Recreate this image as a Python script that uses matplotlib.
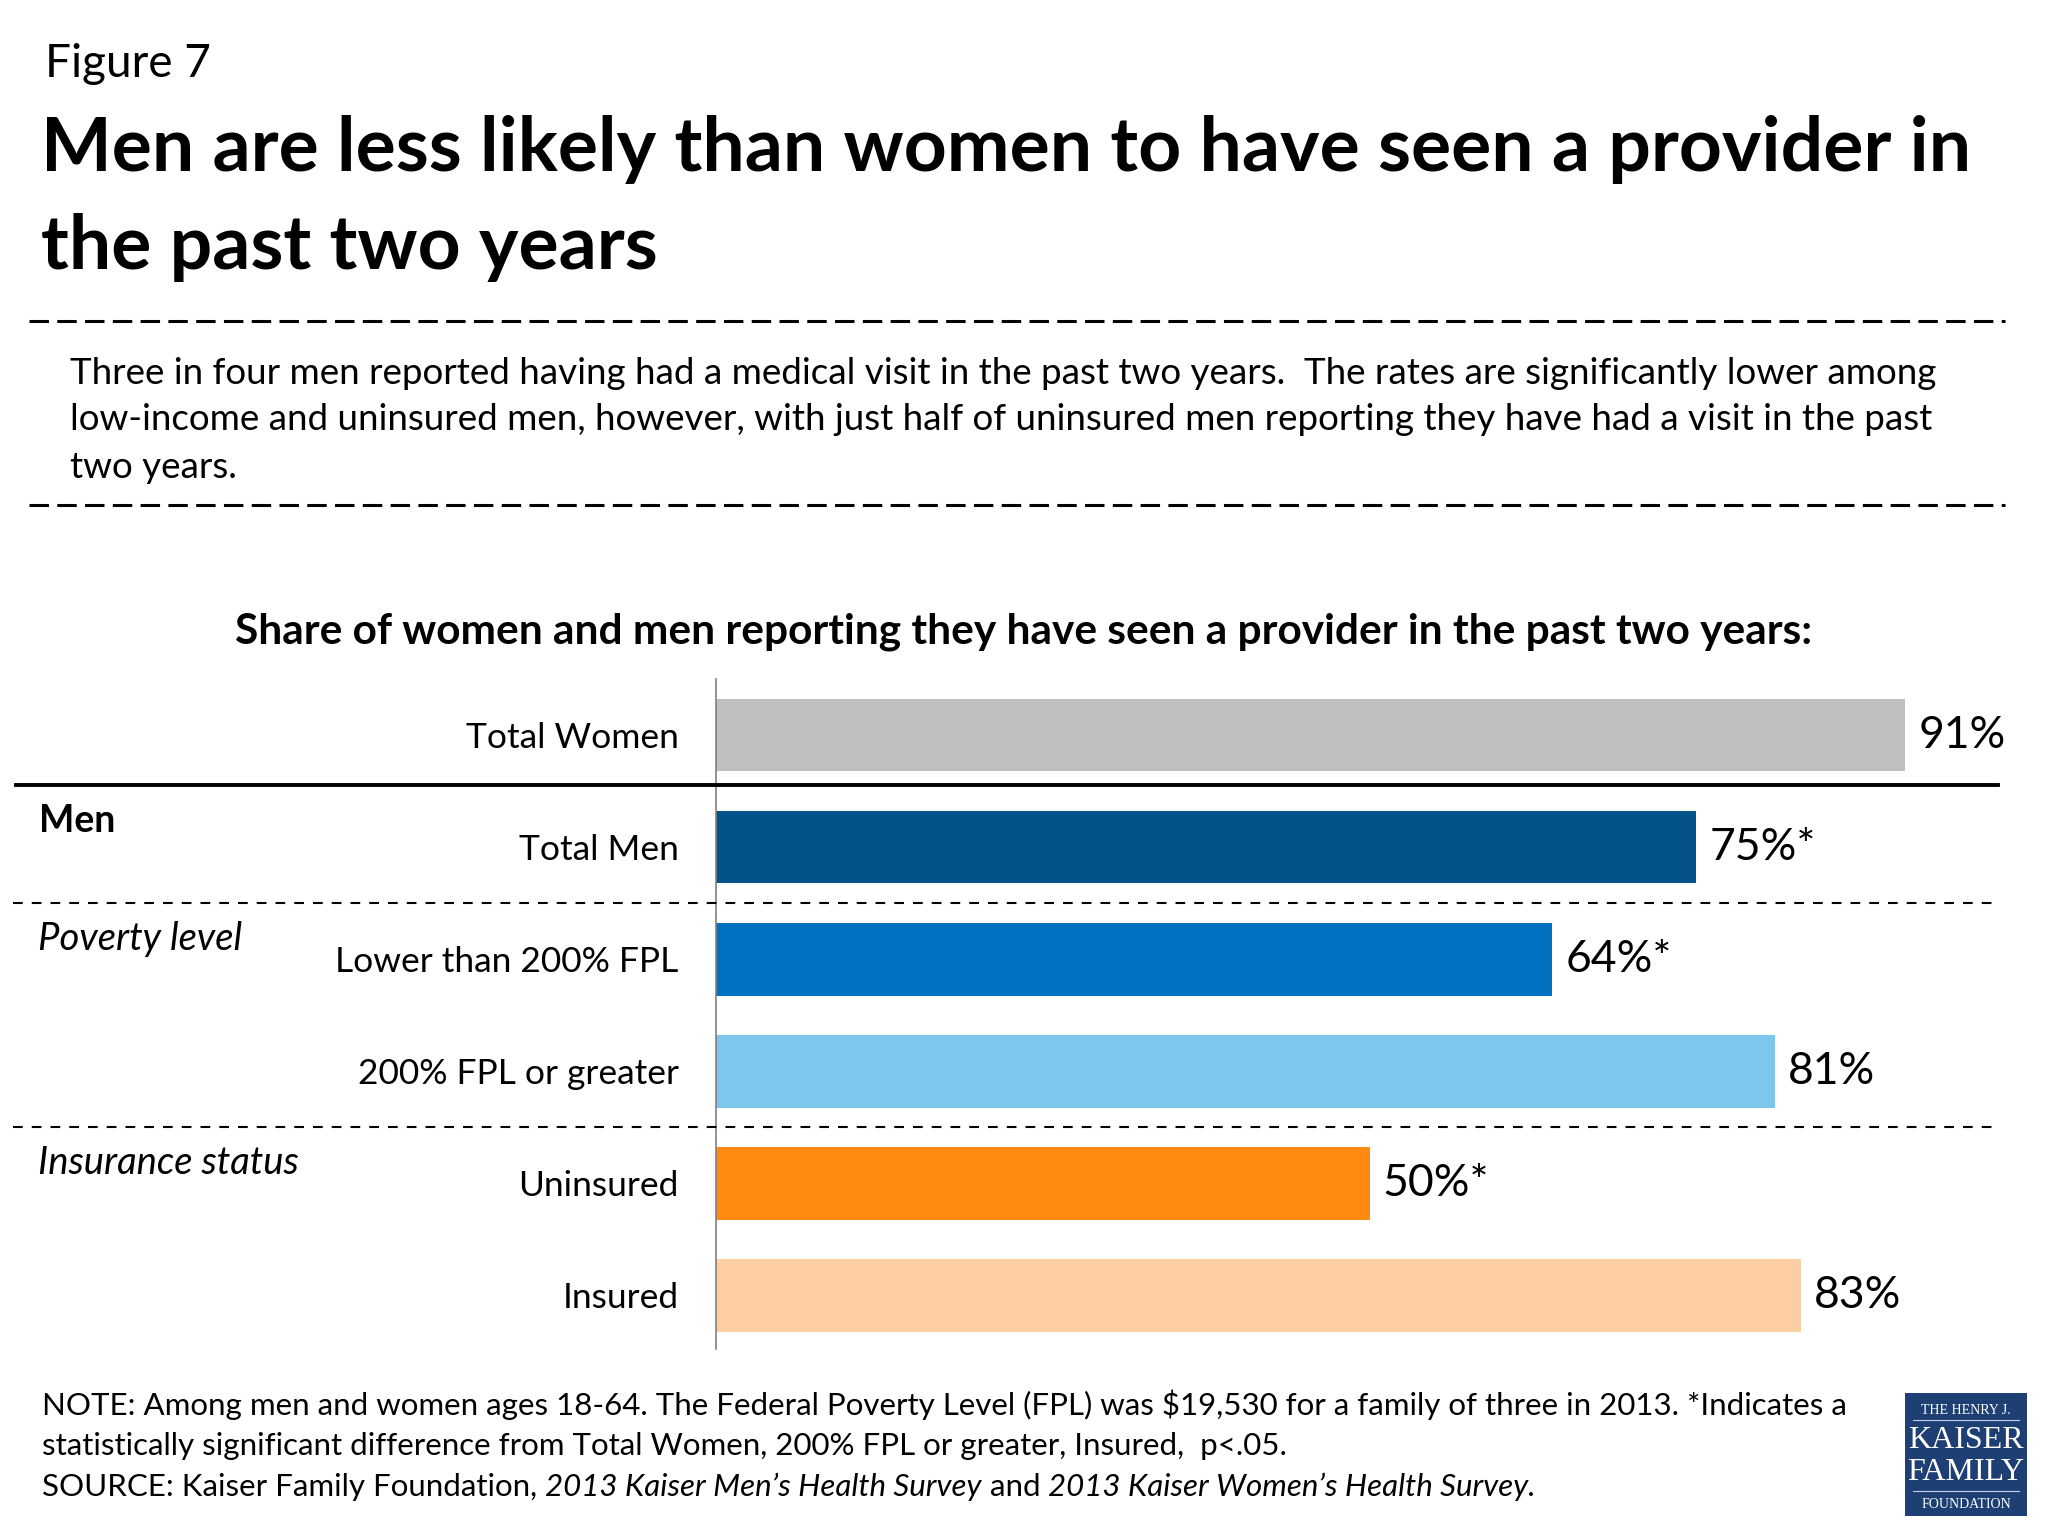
import matplotlib
matplotlib.use("Agg")
import matplotlib.pyplot as plt
from matplotlib.lines import Line2D
from matplotlib.patches import Rectangle
import matplotlib.transforms as mtransforms

plt.rcParams['font.family'] = ['Lato', 'DejaVu Sans']
plt.rcParams['lines.scale_dashes'] = False

# dados
categorias = ['Total Women', 'Total Men', 'Lower than 200% FPL', '200% FPL or greater', 'Uninsured', 'Insured']
valores = [91, 75, 64, 81, 50, 83]
rotulos = ['91%', '75%*', '64%*', '81%', '50%*', '83%']
cores = ['#BFBFBF', '#03538A', '#0071C0', '#7DC6EC', '#FF8A12', '#FDCEA2']
grupos = [('Men', 1, 'bold'), ('Poverty level', 2, 'italic'), ('Insurance status', 4, 'italic')]

W, H = 2048, 1536
fig = plt.figure(figsize=(W / 100, H / 100), dpi=100)


def fx(x):
    return x / W


def fy(y):
    return 1 - y / H


# cabecalho
fig.text(fx(45), fy(64), 'Figure 7', fontsize=33, va='center', ha='left')
fig.text(fx(41), fy(150), 'Men are less likely than women to have seen a provider in',
         fontsize=54, fontweight='bold', va='center', ha='left')
fig.text(fx(41), fy(247), 'the past two years', fontsize=54, fontweight='bold', va='center', ha='left')

dash_top = (0, (14, 6))
for yy in [321, 505]:
    fig.add_artist(Line2D([fx(29), fx(2005)], [fy(yy), fy(yy)], color='black', lw=2.2, linestyle=dash_top))

corpo = ['Three in four men reported having had a medical visit in the past two years.  The rates are significantly lower among',
         'low-income and uninsured men, however, with just half of uninsured men reporting they have had a visit in the past',
         'two years.']
for i, linha in enumerate(corpo):
    fig.text(fx(70), fy(373 + 47 * i), linha, fontsize=26.5, va='center', ha='left')

fig.text(fx(1024), fy(632), 'Share of women and men reporting they have seen a provider in the past two years:',
         fontsize=30.5, fontweight='bold', va='center', ha='center')

# grafico de barras
ax = fig.add_axes([fx(716), fy(1349), 1307 / W, (1349 - 679) / H])
pos = list(range(len(categorias)))
ax.barh(pos, valores, height=0.65, color=cores)
ax.set_xlim(0, 100)
ax.set_ylim(5.48, -0.5)
for spine in ['top', 'right', 'bottom']:
    ax.spines[spine].set_visible(False)
ax.spines['left'].set_color('#808080')
ax.spines['left'].set_linewidth(1.2)
ax.set_xticks([])
ax.set_yticks(pos)
ax.set_yticklabels(categorias, fontsize=25.5)
ax.tick_params(axis='y', length=0, pad=27)
for p, v, r in zip(pos, valores, rotulos):
    ax.text(v + 1.0, p, r, fontsize=32, va='center', ha='left')

trans = mtransforms.blended_transform_factory(fig.transFigure, ax.transData)
fig.add_artist(Line2D([fx(16), fx(1998)], [0.45, 0.45], transform=trans, color='black', lw=2.8))
for yy in [1.5, 3.5]:
    fig.add_artist(Line2D([fx(13), fx(1992)], [yy, yy], transform=trans, color='black', lw=1.5,
                          linestyle=(0, (7, 6.5))))

for nome, p, estilo in grupos:
    if estilo == 'bold':
        fig.text(fx(39), p - 0.23, nome, transform=trans, fontsize=27, fontweight='bold', va='center', ha='left')
    else:
        fig.text(fx(38), p - 0.18, nome, transform=trans, fontsize=27.5, fontstyle='italic', va='center', ha='left')

# notas
fig.text(fx(42), fy(1405), 'NOTE: Among men and women ages 18-64. The Federal Poverty Level (FPL) was $19,530 for a family of three in 2013. *Indicates a',
         fontsize=22.5, va='center', ha='left')
fig.text(fx(42), fy(1446), 'statistically significant difference from Total Women, 200% FPL or greater, Insured,  p<.05.',
         fontsize=22.5, va='center', ha='left')

renderer = fig.canvas.get_renderer()
pedacos = [('SOURCE: Kaiser Family Foundation, ', 'normal'),
           ('2013 Kaiser Men\u2019s Health Survey', 'italic'),
           (' and ', 'normal'),
           ('2013 Kaiser Women\u2019s Health Survey.', 'italic')]
x0 = 42
for txt, est in pedacos:
    t = fig.text(fx(x0), fy(1487), txt, fontsize=22.5, fontstyle=est, va='center', ha='left')
    bb = t.get_window_extent(renderer=renderer)
    x0 += bb.width

# logo
fig.add_artist(Rectangle((fx(1905), fy(1516)), 122 / W, 123 / H, transform=fig.transFigure,
                         facecolor='#1E3F73', edgecolor='none'))
serif = ['Liberation Serif', 'DejaVu Serif']
fig.text(fx(1966), fy(1410), 'THE HENRY J.', family=serif, fontsize=10, color='white', ha='center', va='center')
fig.add_artist(Line2D([fx(1913), fx(2019)], [fy(1420), fy(1420)], color='#C8D2E4', lw=0.8))
fig.text(fx(1966), fy(1441), 'KAISER', family=serif, fontsize=23, color='white', ha='center', va='center')
fig.text(fx(1966), fy(1473), 'FAMILY', family=serif, fontsize=23, color='white', ha='center', va='center')
fig.add_artist(Line2D([fx(1913), fx(2019)], [fy(1491), fy(1491)], color='#C8D2E4', lw=0.8))
fig.text(fx(1966), fy(1504), 'FOUNDATION', family=serif, fontsize=10, color='white', ha='center', va='center')

fig.savefig('out.png', dpi=100, facecolor='white')
